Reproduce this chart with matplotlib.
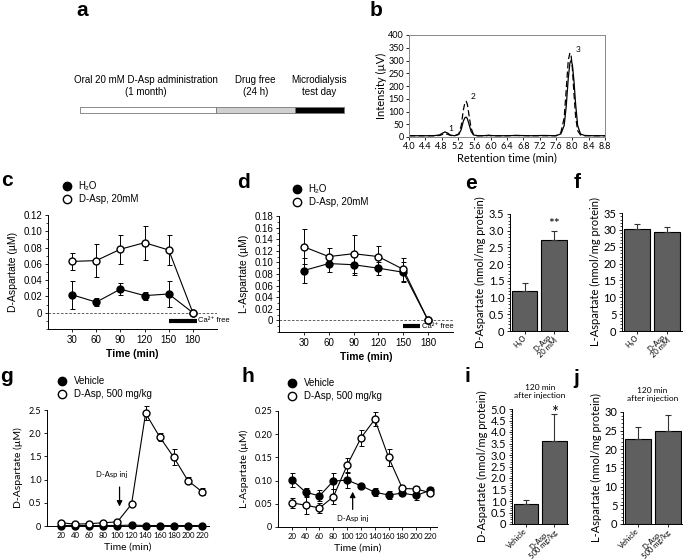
import numpy as np
import matplotlib
matplotlib.use("Agg")
import matplotlib.pyplot as plt
from matplotlib.lines import Line2D
from matplotlib.patches import Rectangle
from matplotlib.ticker import MultipleLocator, FormatStrFormatter, FuncFormatter

plt.rcParams['font.family'] = ['Liberation Sans', 'DejaVu Sans']
CAL = ['Lato', 'DejaVu Sans']

# ---- data ----
# a: protocol phases
phase_labels = ['Oral 20 mM D-Asp administration\n(1 month)', 'Drug free\n(24 h)',
                'Microdialysis\ntest day']

# b: chromatogram
chrom_t = [4.0, 4.3, 4.6, 4.75, 4.82, 4.88, 4.94, 5.02, 5.12, 5.22, 5.28, 5.33, 5.37,
           5.4, 5.43, 5.47, 5.52, 5.58, 5.68, 5.8, 5.9, 5.95, 6.0, 6.1, 6.4, 6.6,
           7.0, 7.3, 7.6, 7.72, 7.8, 7.85, 7.9, 7.94, 7.97, 8.0, 8.04, 8.08, 8.13,
           8.2, 8.3, 8.5, 8.8]
chrom_solid = [5, 5, 5, 8, 15, 20, 16, 7, 5, 10, 30, 62, 76, 78, 72, 50, 22, 8, 5, 5,
               6, 7, 6, 5, 5, 6, 5, 6, 5, 12, 45, 120, 230, 290, 300, 285, 220, 130,
               45, 12, 6, 5, 5]
chrom_dash = [5, 5, 5, 6, 10, 13, 11, 6, 5, 12, 45, 105, 135, 140, 128, 85, 35, 10, 5,
              5, 5, 6, 5, 5, 5, 6, 5, 5, 5, 18, 75, 185, 300, 330, 320, 270, 170, 80,
              25, 8, 5, 5, 5]

# c, d: microdialysis after chronic D-Asp
t_cd = [30, 60, 90, 120, 150, 180]
c_h2o = [0.022, 0.013, 0.029, 0.021, 0.023, 0.0]
c_h2o_err = [0.017, 0.005, 0.007, 0.005, 0.016, 0.0]
c_dasp = [0.063, 0.064, 0.078, 0.086, 0.077, 0.0]
c_dasp_err = [0.010, 0.020, 0.018, 0.021, 0.018, 0.0]
d_h2o = [0.086, 0.098, 0.096, 0.090, 0.083, 0.0]
d_h2o_err = [0.022, 0.015, 0.017, 0.011, 0.017, 0.0]
d_dasp = [0.127, 0.110, 0.115, 0.110, 0.088, 0.0]
d_dasp_err = [0.030, 0.014, 0.033, 0.019, 0.020, 0.0]

# e, f: tissue content after chronic D-Asp
ef_groups = ['H₂O', 'D-Asp,\n20 mM']
e_vals = [1.2, 2.72]
e_err = [0.25, 0.28]
f_vals = [30.3, 29.3]
f_err = [1.5, 1.5]

# g, h: microdialysis after acute D-Asp injection
t_gh = [20, 40, 60, 80, 100, 120, 140, 160, 180, 200, 220]
g_veh = [0.01, 0.01, 0.01, 0.01, 0.01, 0.02, 0.01, 0.01, 0.01, 0.01, 0.01]
g_veh_err = [0.005] * 11
g_dasp = [0.07, 0.04, 0.05, 0.07, 0.09, 0.47, 2.43, 1.92, 1.48, 0.98, 0.74]
g_dasp_err = [0.02, 0.02, 0.02, 0.02, 0.02, 0.03, 0.15, 0.09, 0.17, 0.08, 0.07]
h_veh = [0.102, 0.075, 0.067, 0.099, 0.101, 0.089, 0.075, 0.069, 0.073, 0.068, 0.079]
h_veh_err = [0.015, 0.008, 0.012, 0.017, 0.016, 0.004, 0.009, 0.009, 0.004, 0.010, 0.008]
h_dasp = [0.052, 0.047, 0.041, 0.065, 0.133, 0.192, 0.232, 0.150, 0.083, 0.082, 0.074]
h_dasp_err = [0.010, 0.018, 0.010, 0.016, 0.015, 0.018, 0.015, 0.018, 0.006, 0.006, 0.005]

# i, j: tissue content 120 min after injection
ij_groups = ['Vehicle', 'D-Asp,\n500 mg/kg']
i_vals = [0.88, 3.62]
i_err = [0.15, 1.15]
j_vals = [22.7, 25.0]
j_err = [3.3, 4.3]

W, H = 685, 560
fig = plt.figure(figsize=(W / 100, H / 100), dpi=100)


def px_axes(l, t, r, b):
    return fig.add_axes([l / W, 1 - b / H, (r - l) / W, (b - t) / H])


def fxy(x, y):
    return (x / W, 1 - y / H)


def zero_fmt(fmt):
    return FuncFormatter(lambda v, p: '0' if abs(v) < 1e-9 else fmt % v)


def panel_label(x, y, s):
    fig.text(x / W, 1 - y / H, s, fontsize=15, fontweight='bold', ha='center', va='center')


def style_ax(ax, fam=None, size=7):
    for s in ['top', 'right']:
        ax.spines[s].set_visible(False)
    for s in ['left', 'bottom']:
        ax.spines[s].set_linewidth(0.7)
    ax.tick_params(labelsize=size, length=2.5, width=0.6, pad=1.5)
    ax.tick_params(which='minor', length=1.5, width=0.5)
    if fam:
        for lab in ax.get_xticklabels() + ax.get_yticklabels():
            lab.set_family(fam)


def series(ax, t, y, e, filled, ms=5, z=3):
    ax.errorbar(t, y, yerr=e, fmt='-o', color='k', mfc='k' if filled else 'white',
                mec='k', ms=ms, lw=0.8, elinewidth=0.7, capsize=1.8, capthick=0.7,
                zorder=z, clip_on=False)


def legend(ax, labels, x, y):
    hs = [Line2D([], [], marker='o', ls='none', color='k', mfc='k', ms=6),
          Line2D([], [], marker='o', ls='none', color='k', mfc='white', ms=6)]
    ax.legend(hs, labels, loc='upper left', bbox_to_anchor=fxy(x, y),
              bbox_transform=fig.transFigure, frameon=False, fontsize=7,
              handlelength=0.6, handletextpad=0.9, labelspacing=0.35,
              borderpad=0, borderaxespad=0)


def bars(ax, vals, err, groups, ymax, major, minor, fmt, ylabel, title=None):
    x = np.arange(len(vals))
    ax.bar(x, vals, width=0.86, color='#5f5f5f', edgecolor='k', lw=0.8,
           yerr=[np.zeros(len(err)), err], capsize=2,
           error_kw=dict(elinewidth=0.8, capthick=0.8, ecolor='#333333'))
    ax.set_xlim(-0.5, 1.48)
    ax.set_ylim(0, ymax)
    ax.yaxis.set_major_locator(MultipleLocator(major))
    ax.yaxis.set_minor_locator(MultipleLocator(minor))
    ax.yaxis.set_major_formatter(zero_fmt(fmt))
    ax.set_xticks(x)
    ax.set_xticklabels(groups, rotation=45, ha='right', va='center',
                       rotation_mode='anchor', multialignment='center',
                       fontsize=5.5, family=CAL, linespacing=0.9)
    ax.set_ylabel(ylabel, fontsize=8, family=CAL, labelpad=2)
    style_ax(ax, CAL, 8)
    ax.tick_params(axis='x', labelsize=5.5, pad=1.5)
    if title:
        ax.set_title(title, fontsize=6, family=CAL, pad=8, linespacing=1.2)


# ---- a: timeline ----
ax_a = px_axes(60, 60, 360, 130)
ax_a.set_xlim(60, 360)
ax_a.set_ylim(130, 60)
ax_a.axis('off')
segs = [(80, 216, 'white'), (216, 295, '#d0d0d0'), (295, 344, 'black')]
for (x0, x1, col), lab in zip(segs, phase_labels):
    ax_a.add_patch(Rectangle((x0, 107), x1 - x0, 6, facecolor=col,
                             edgecolor='#777777', lw=0.6))
    ax_a.text((x0 + x1) / 2 - (2 if col == 'white' else 0), 86, lab, ha='center',
              va='center', fontsize=7, linespacing=1.25)
panel_label(82, 10, 'a')

# ---- b: chromatogram ----
ax_b = px_axes(409, 35, 605, 137)
ax_b.plot(chrom_t, chrom_solid, color='k', lw=0.9)
ax_b.plot(chrom_t, chrom_dash, color='k', lw=0.9, ls=(0, (5, 2.5)))
ax_b.set_xlim(4.0, 8.8)
ax_b.set_ylim(0, 400)
ax_b.set_xticks(np.arange(4.0, 8.81, 0.4))
ax_b.xaxis.set_major_formatter(FormatStrFormatter('%.1f'))
ax_b.yaxis.set_major_locator(MultipleLocator(50))
for s in ax_b.spines.values():
    s.set_linewidth(0.7)
    s.set_color('#888888')
ax_b.tick_params(labelsize=6.5, length=2, width=0.6, pad=1.5)
for lab in ax_b.get_xticklabels() + ax_b.get_yticklabels():
    lab.set_family(CAL)
ax_b.set_xlabel('Retention time (min)', fontsize=8, family=CAL, labelpad=1)
ax_b.set_ylabel('Intensity (µV)', fontsize=8, family=CAL, labelpad=1)
ax_b.text(4.96, 22, '1', fontsize=6, family=CAL)
ax_b.text(5.5, 148, '2', fontsize=6, family=CAL)
ax_b.text(8.07, 332, '3', fontsize=6, family=CAL)
panel_label(376, 10, 'b')

# ---- c ----
ax_c = px_axes(48, 215, 217, 329)
ax_c.axhline(0, ls=(0, (3, 2)), lw=0.6, color='#444444', zorder=1)
series(ax_c, t_cd, c_h2o, c_h2o_err, True)
series(ax_c, t_cd, c_dasp, c_dasp_err, False, z=4)
ax_c.set_xlim(0, 210)
ax_c.set_ylim(-0.02, 0.12)
ax_c.set_xticks(t_cd)
ax_c.set_yticks(np.arange(0, 0.121, 0.02))
ax_c.yaxis.set_minor_locator(MultipleLocator(0.01))
ax_c.yaxis.set_major_formatter(zero_fmt('%.2f'))
ax_c.plot([150, 185], [-0.01, -0.01], color='k', lw=3, solid_capstyle='butt')
ax_c.text(187, -0.01, 'Ca²⁺ free', fontsize=5.5, va='center')
ax_c.set_ylabel('D-Aspartate (µM)', fontsize=7.5)
ax_c.set_xlabel('Time (min)', fontsize=7.5, fontweight='bold', labelpad=3)
style_ax(ax_c)
legend(ax_c, ['H₂O', 'D-Asp, 20mM'], 64, 181)
panel_label(7, 180, 'c')

# ---- d ----
ax_d = px_axes(279, 216, 453, 332)
ax_d.axhline(0, ls=(0, (3, 2)), lw=0.6, color='#444444', zorder=1)
series(ax_d, t_cd, d_h2o, d_h2o_err, True)
series(ax_d, t_cd, d_dasp, d_dasp_err, False, z=4)
ax_d.set_xlim(0, 210)
ax_d.set_ylim(-0.02, 0.18)
ax_d.set_xticks(t_cd)
ax_d.set_yticks(np.arange(0, 0.181, 0.02))
ax_d.yaxis.set_minor_locator(MultipleLocator(0.01))
ax_d.yaxis.set_major_formatter(zero_fmt('%.2f'))
ax_d.plot([150, 170], [-0.01, -0.01], color='k', lw=3, solid_capstyle='butt')
ax_d.text(172, -0.01, 'Ca²⁺ free', fontsize=5.5, va='center', clip_on=False)
ax_d.set_ylabel('L-Aspartate (µM)', fontsize=7.5)
ax_d.set_xlabel('Time (min)', fontsize=7.5, fontweight='bold', labelpad=3)
style_ax(ax_d)
legend(ax_d, ['H₂O', 'D-Asp, 20mM'], 294, 184)
panel_label(244, 182, 'd')

# ---- e, f ----
ax_e = px_axes(510, 214, 568, 331)
bars(ax_e, e_vals, e_err, ef_groups, 3.5, 0.5, 0.1, '%.1f', 'D-Aspartate (nmol/mg protein)')
ax_e.text(1, 3.08, '**', ha='center', fontsize=10, family=CAL)
panel_label(471, 184, 'e')

ax_f = px_axes(622, 213, 682, 331)
bars(ax_f, f_vals, f_err, ef_groups, 35, 5, 1, '%d', 'L-Aspartate (nmol/mg protein)')
panel_label(577, 183, 'f')

# ---- g ----
ax_g = px_axes(47, 410, 209, 526)
series(ax_g, t_gh, g_veh, g_veh_err, True, ms=5)
series(ax_g, t_gh, g_dasp, g_dasp_err, False, ms=5, z=4)
ax_g.set_xlim(0, 230)
ax_g.set_ylim(0, 2.5)
ax_g.set_xticks(t_gh)
ax_g.yaxis.set_major_locator(MultipleLocator(0.5))
ax_g.yaxis.set_major_formatter(zero_fmt('%.1f'))
ax_g.annotate('', xy=(103, 0.36), xytext=(103, 0.9),
              arrowprops=dict(arrowstyle='-|>', color='k', lw=0.9, mutation_scale=8))
ax_g.text(92, 1.06, 'D-Asp inj', fontsize=5.5, ha='center', family=CAL)
ax_g.set_ylabel('D-Aspartate (µM)', fontsize=7.5, family=CAL)
ax_g.set_xlabel('Time (min)', fontsize=7.5, family=CAL, labelpad=3)
style_ax(ax_g, CAL, 6.5)
ax_g.tick_params(axis='x', labelsize=5.6)
legend(ax_g, ['Vehicle', 'D-Asp, 500 mg/kg'], 59, 376)
panel_label(6, 376, 'g')

# ---- h ----
ax_h = px_axes(278, 411, 437, 527)
series(ax_h, t_gh, h_veh, h_veh_err, True, ms=5)
series(ax_h, t_gh, h_dasp, h_dasp_err, False, ms=5, z=4)
ax_h.set_xlim(0, 230)
ax_h.set_ylim(0, 0.25)
ax_h.set_xticks(t_gh)
ax_h.yaxis.set_major_locator(MultipleLocator(0.05))
ax_h.yaxis.set_major_formatter(zero_fmt('%.2f'))
ax_h.annotate('', xy=(108, 0.082), xytext=(108, 0.032),
              arrowprops=dict(arrowstyle='-|>', color='k', lw=0.9, mutation_scale=8))
ax_h.text(108, 0.012, 'D-Asp inj', fontsize=5.5, ha='center', family=CAL)
ax_h.set_ylabel('L-Aspartate (µM)', fontsize=7.5, family=CAL)
ax_h.set_xlabel('Time (min)', fontsize=7.5, family=CAL, labelpad=3)
style_ax(ax_h, CAL, 6.5)
ax_h.tick_params(axis='x', labelsize=5.6)
legend(ax_h, ['Vehicle', 'D-Asp, 500 mg/kg'], 289, 378)
panel_label(248, 377, 'h')

# ---- i, j ----
ax_i = px_axes(512, 409, 568, 524)
bars(ax_i, i_vals, i_err, ij_groups, 5.0, 0.5, 0.1, '%.1f', 'D-Aspartate (nmol/mg protein)',
     '120 min\nafter injection')
ax_i.text(1, 4.82, '*', ha='center', va='center', fontsize=12, family=CAL)
panel_label(467, 377, 'i')

ax_j = px_axes(623, 412, 682, 524)
bars(ax_j, j_vals, j_err, ij_groups, 30, 5, 1, '%d', 'L-Aspartate (nmol/mg protein)',
     '120 min\nafter injection')
panel_label(576, 378, 'j')

fig.savefig('out.png', dpi=100)
